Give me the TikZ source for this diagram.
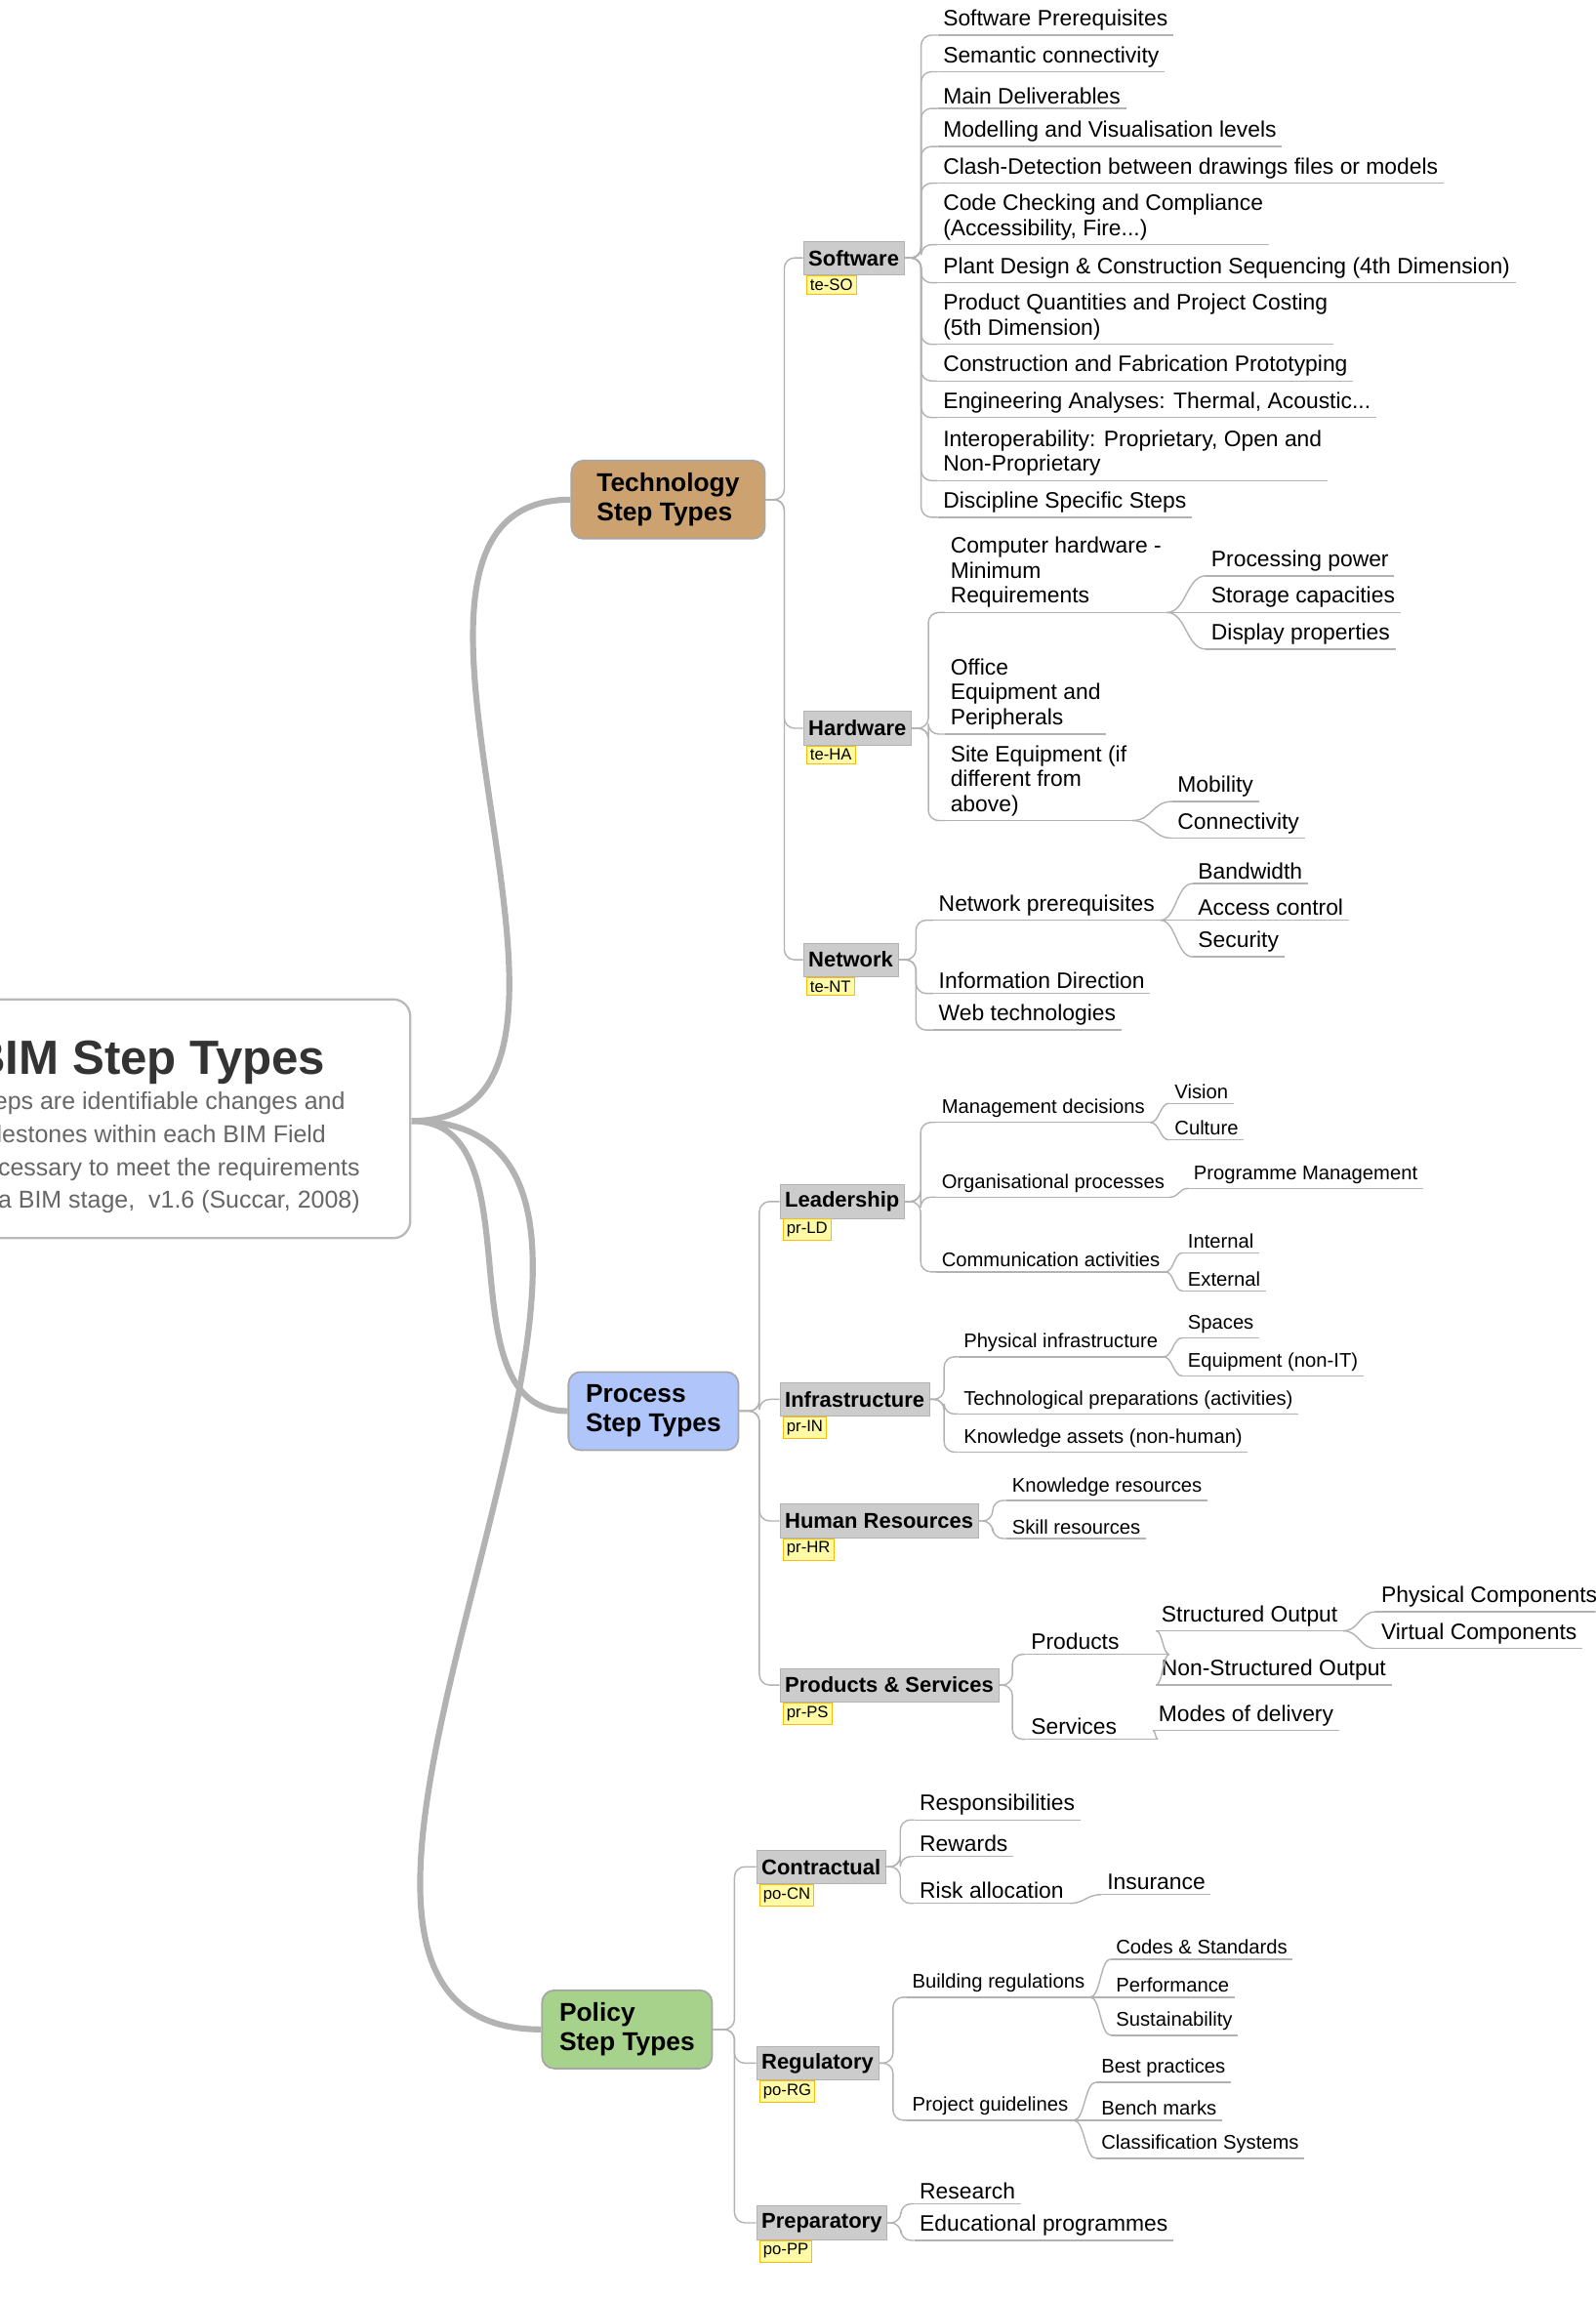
\documentclass[tikz,border=0pt]{standalone}
\usepackage{fontspec}
\setmainfont{Liberation Sans}
\usetikzlibrary{calc}
\definecolor{techc}{RGB}{204,163,112}
\definecolor{procc}{RGB}{176,198,250}
\definecolor{polc}{RGB}{166,210,140}
\begin{document}
\begin{tikzpicture}[x=0.03cm,y=-0.03cm,
 leaf/.style={anchor=south west,inner xsep=3pt,inner ysep=2.5pt,font=\fontsize{13}{14.5}\selectfont,align=left},
 nar/.style={font=\fontsize{11.5}{13}\selectfont},
 ul/.style={draw=gray!60,line width=0.8pt},
 conn/.style={draw=gray!60,line width=0.8pt,rounded corners=6pt},
 connc/.style={draw=gray!60,line width=0.8pt},
 cat/.style={anchor=west,fill=gray!40,draw=gray!60,font=\bfseries\fontsize{12.5}{14}\selectfont,inner sep=3pt,minimum height=0.69cm},
 tag/.style={anchor=north west,fill=yellow!35,draw=yellow!50!orange,font=\fontsize{9.5}{10}\selectfont,inner sep=2pt},
 br/.style={rounded corners=7pt,draw=gray!70,line width=1pt,font=\bfseries\fontsize{15}{17}\selectfont,align=left,minimum height=1.6cm,inner xsep=8pt,anchor=center},
 trunk/.style={draw=gray!60,line width=3.5pt}]
\newcommand\stem[2]{\draw[conn] let \p1=(#1), \p2=(#2) in (\p1) -- (\x1/2+\x2/2,\y1) |- (\p2);}
\newcommand\stemc[2]{\draw[connc] let \p1=(#1), \p2=(#2) in (\p1) .. controls (\x1/2+\x2/2,\y1) and (\x1/2+\x2/2,\y2) .. (\p2);}
\newcommand\mycat[5]{\node[cat] (#1) at (#2,#3) {#4}; \node[tag] at ([xshift=2pt]#1.south west) {#5};}
\newcommand\lf[6][]{\node[leaf,#1] (#2) at (#4,#5) {#6}; \draw[ul] (#2.south west) -- (#2.south east); \stem{#3}{#2.south west}}
\newcommand\lfn[6][]{\node[leaf,#1] (#2) at (#4,#5) {#6}; \draw[ul] (#2.south west) -- (#2.south east); \stemc{#3}{#2.south west}}
\useasboundingbox (0,0) rectangle (1089,1569);
\clip (0,0) rectangle (1089,1569);
% title
\node[draw=gray!55,line width=1.3pt,rounded corners=10pt,minimum width=9cm,minimum height=4.89cm] (title) at (130,763.5) {};
\node[anchor=base west,font=\bfseries\fontsize{28}{30}\selectfont,text=black!80,inner sep=0] at (-20,733) {BIM Step Types};
\node[anchor=north west,align=left,font=\fontsize{14.2}{19.2}\selectfont,text=gray!80!black,inner sep=0] at (-20,745) {Steps are identifiable changes and\\milestones within each BIM Field\\necessary to meet the requirements\\of a BIM stage,\ \ v1.6 (Succar, 2008)};
% branches
\node[br,fill=techc,minimum width=3.96cm] (tech) at (456,341) {Technology\\Step Types};
\node[br,fill=procc,minimum width=3.48cm] (proc) at (446,963) {Process\\Step Types};
\node[br,fill=polc,minimum width=3.48cm] (pol) at (428,1385) {Policy\\Step Types};
\coordinate (t0) at (281,765);
\draw[trunk] (t0) to[out=0,in=180] (tech.west);
\draw[trunk] (t0) to[out=0,in=180] (proc.west);
\draw[trunk] (t0) to[out=0,in=180] (pol.west);
% technology
\mycat{sw}{548}{176}{Software}{te-SO}
\mycat{hw}{548}{497}{Hardware}{te-HA}
\mycat{nt}{548}{655}{Network}{te-NT}
\foreach \c in {sw,hw,nt} {\stem{tech.east}{\c.west}}
\lf{a1}{sw.east}{640}{24}{Software Prerequisites}
\lf{a2}{sw.east}{640}{49}{Semantic connectivity}
\lf{a3}{sw.east}{640}{74}{Main Deliverables}
\lf{a4}{sw.east}{640}{100}{Modelling and Visualisation levels}
\lf{a5}{sw.east}{640}{125}{Clash-Detection between drawings files or models}
\lf{a6}{sw.east}{640}{167}{Code Checking and Compliance\\(Accessibility, Fire...)}
\lf{a7}{sw.east}{640}{193}{Plant Design \& Construction Sequencing (4th Dimension)}
\lf{a8}{sw.east}{640}{235}{Product Quantities and Project Costing\\(5th Dimension)}
\lf{a9}{sw.east}{640}{260}{Construction and Fabrication Prototyping}
\lf{a10}{sw.east}{640}{285}{Engineering Analyses: Thermal, Acoustic...}
\lf{a11}{sw.east}{640}{328}{Interoperability: Proprietary, Open and\\Non-Proprietary}
\lf{a12}{sw.east}{640}{353}{Discipline Specific Steps}
\lf{h1}{hw.east}{645}{418}{Computer hardware -\\Minimum\\Requirements\hspace{2.2em}}
\lfn{h11}{h1.south east}{823}{393}{Processing power}
\lfn{h12}{h1.south east}{823}{418}{Storage capacities}
\lfn{h13}{h1.south east}{823}{443}{Display properties}
\lf{h2}{hw.east}{645}{501}{Office\\Equipment and\\Peripherals}
\lf{h3}{hw.east}{645}{560}{Site Equipment (if\\different from\\above)\hspace{5em}}
\lfn{h31}{h3.south east}{800}{547}{Mobility}
\lfn{h32}{h3.south east}{800}{572}{Connectivity}
\lf{n1}{nt.east}{637}{628}{Network prerequisites}
\lfn{n11}{n1.south east}{814}{603}{Bandwidth}
\lfn{n12}{n1.south east}{814}{628}{Access control}
\lfn{n13}{n1.south east}{814}{653}{Security}
\lf{n2}{nt.east}{637}{678}{Information Direction}
\lf{n3}{nt.east}{637}{703}{Web technologies}
% process
\mycat{ld}{532}{820}{Leadership}{pr-LD}
\mycat{in}{532}{955}{Infrastructure}{pr-IN}
\mycat{hr}{532}{1038}{Human Resources}{pr-HR}
\mycat{ps}{532}{1150}{Products \& Services}{pr-PS}
\foreach \c in {ld,in,hr,ps} {\stem{proc.east}{\c.west}}
\lf[nar]{l1}{ld.east}{639}{766}{Management decisions}
\lfn[nar]{l11}{l1.south east}{798}{753}{Vision}
\lfn[nar]{l12}{l1.south east}{798}{778}{Culture}
\lf[nar]{l2}{ld.east}{639}{817}{Organisational processes}
\lfn[nar]{l21}{l2.south east}{811}{811}{Programme Management}
\lf[nar]{l3}{ld.east}{639}{868}{Communication activities}
\lfn[nar]{l31}{l3.south east}{807}{855}{Internal}
\lfn[nar]{l32}{l3.south east}{807}{881}{External}
\lf[nar]{i1}{in.east}{654}{926}{Physical infrastructure}
\lfn[nar]{i11}{i1.south east}{807}{913}{Spaces}
\lfn[nar]{i12}{i1.south east}{807}{939}{Equipment (non-IT)}
\lf[nar]{i2}{in.east}{654}{965}{Technological preparations (activities)}
\lf[nar]{i3}{in.east}{654}{991}{Knowledge assets (non-human)}
\lf[nar]{r1}{hr.east}{687}{1024}{Knowledge resources}
\lf[nar]{r2}{hr.east}{687}{1050}{Skill resources}
\lf{p1}{ps.east}{700}{1129}{Products\hspace{2em}}
\lfn{p11}{p1.south east}{789}{1113}{Structured Output}
\lfn{p111}{p11.south east}{939}{1100}{Physical Components}
\lfn{p112}{p11.south east}{939}{1125}{Virtual Components}
\lfn{p12}{p1.south east}{789}{1150}{Non-Structured Output}
\lf{p2}{ps.east}{700}{1187}{Services\hspace{1.6em}}
\lfn{p21}{p2.south east}{787}{1181}{Modes of delivery}
% policy
\mycat{cn}{516}{1274}{Contractual}{po-CN}
\mycat{rg}{516}{1408}{Regulatory}{po-RG}
\mycat{pp}{516}{1517}{Preparatory}{po-PP}
\foreach \c in {cn,rg,pp} {\stem{pol.east}{\c.west}}
\lf{c1}{cn.east}{624}{1242}{Responsibilities}
\lf{c2}{cn.east}{624}{1267}{Rewards}
\lf{c3}{cn.east}{624}{1299}{Risk allocation}
\lfn{c31}{c3.south east}{752}{1293}{Insurance}
\lf[nar]{g1}{rg.east}{619}{1363}{Building regulations}
\lfn[nar]{g11}{g1.south east}{758}{1337}{Codes \& Standards}
\lfn[nar]{g12}{g1.south east}{758}{1363}{Performance}
\lfn[nar]{g13}{g1.south east}{758}{1389}{Sustainability}
\lf[nar]{g2}{rg.east}{619}{1447}{Project guidelines}
\lfn[nar]{g21}{g2.south east}{748}{1421}{Best practices}
\lfn[nar]{g22}{g2.south east}{748}{1447}{Bench marks}
\lfn[nar]{g23}{g2.south east}{748}{1473}{Classification Systems}
\lf{q1}{pp.east}{624}{1504}{Research}
\lf{q2}{pp.east}{624}{1529}{Educational programmes}
\end{tikzpicture}
\end{document}
